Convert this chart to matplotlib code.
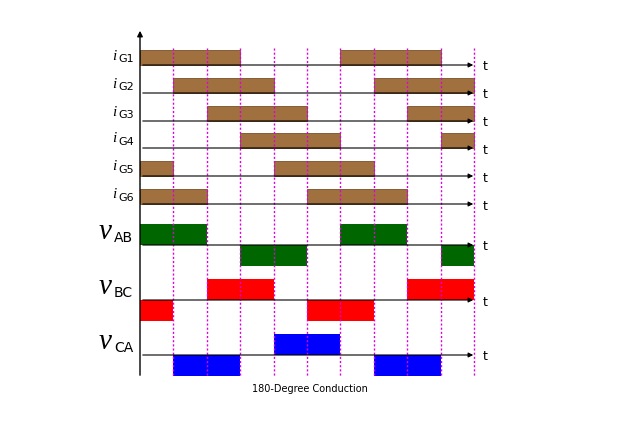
import matplotlib
matplotlib.use("Agg")
import matplotlib.pyplot as plt
from matplotlib.patches import Rectangle

# Data: intervals in 60-degree steps (0..10), level +1 above baseline, -1 below
gate_names = ["G1", "G2", "G3", "G4", "G5", "G6"]
gate_on = [
    [(0, 3), (6, 9)],
    [(1, 4), (7, 10)],
    [(2, 5), (8, 10)],
    [(3, 6), (9, 10)],
    [(0, 1), (4, 7)],
    [(0, 2), (5, 8)],
]
volt_names = ["AB", "BC", "CA"]
volt_segments = [
    [(0, 2, 1), (3, 5, -1), (6, 8, 1), (9, 10, -1)],
    [(0, 1, -1), (2, 4, 1), (5, 7, -1), (8, 10, 1)],
    [(1, 3, -1), (4, 6, 1), (7, 9, -1)],
]
volt_colors = ["#006600", "#ff0000", "#0000ff"]

fig = plt.figure(figsize=(6.38, 4.32), dpi=100)
ax = fig.add_axes([0, 0, 1, 1])
ax.set_xlim(0, 638); ax.set_ylim(432, 0); ax.axis("off")

x0, dx = 140, 33.4
X = lambda s: x0 + s * dx
gate_base = [65, 93, 121, 148, 176, 204]
gh = 15
volt_base = [245, 300, 355]
vh = 21

ax.annotate("", xy=(x0, 28), xytext=(x0, 378),
            arrowprops=dict(arrowstyle="-|>", color="black", lw=1, mutation_scale=8))
for k in range(1, 11):
    ax.plot([X(k), X(k)], [48, 376], color="#dd00dd", lw=1, ls=(0, (1.5, 1.5)), zorder=3)

def t_axis(y):
    ax.annotate("", xy=(X(10) + 2, y), xytext=(x0, y),
                arrowprops=dict(arrowstyle="-|>", color="black", lw=0.8, mutation_scale=7))
    ax.text(483, y + 2, "t", fontsize=9, va="center", ha="left")

for name, ons, yb in zip(gate_names, gate_on, gate_base):
    for a, b in ons:
        ax.add_patch(Rectangle((X(a), yb - gh), X(b) - X(a), gh,
                               facecolor="#a0703e", edgecolor="#7a5028", lw=0.6, zorder=2))
    t_axis(yb)
    ax.text(112, yb - 9, "i", fontsize=11, style="italic", family="Liberation Serif",
            ha="left", va="center")
    ax.text(118, yb - 6, name, fontsize=8, ha="left", va="center")

for name, segs, yb, c in zip(volt_names, volt_segments, volt_base, volt_colors):
    for a, b, lv in segs:
        ax.add_patch(Rectangle((X(a), yb if lv < 0 else yb - vh), X(b) - X(a), vh,
                               facecolor=c, edgecolor="none", zorder=2))
    t_axis(yb)
    ax.text(99, yb - 13, "v", fontsize=21, style="italic", family="Liberation Serif",
            ha="left", va="center")
    ax.text(114, yb - 7, name, fontsize=10, ha="left", va="center")

ax.text(310, 389, "180-Degree Conduction", fontsize=7, ha="center", va="center")
fig.savefig("out.png", dpi=100)
